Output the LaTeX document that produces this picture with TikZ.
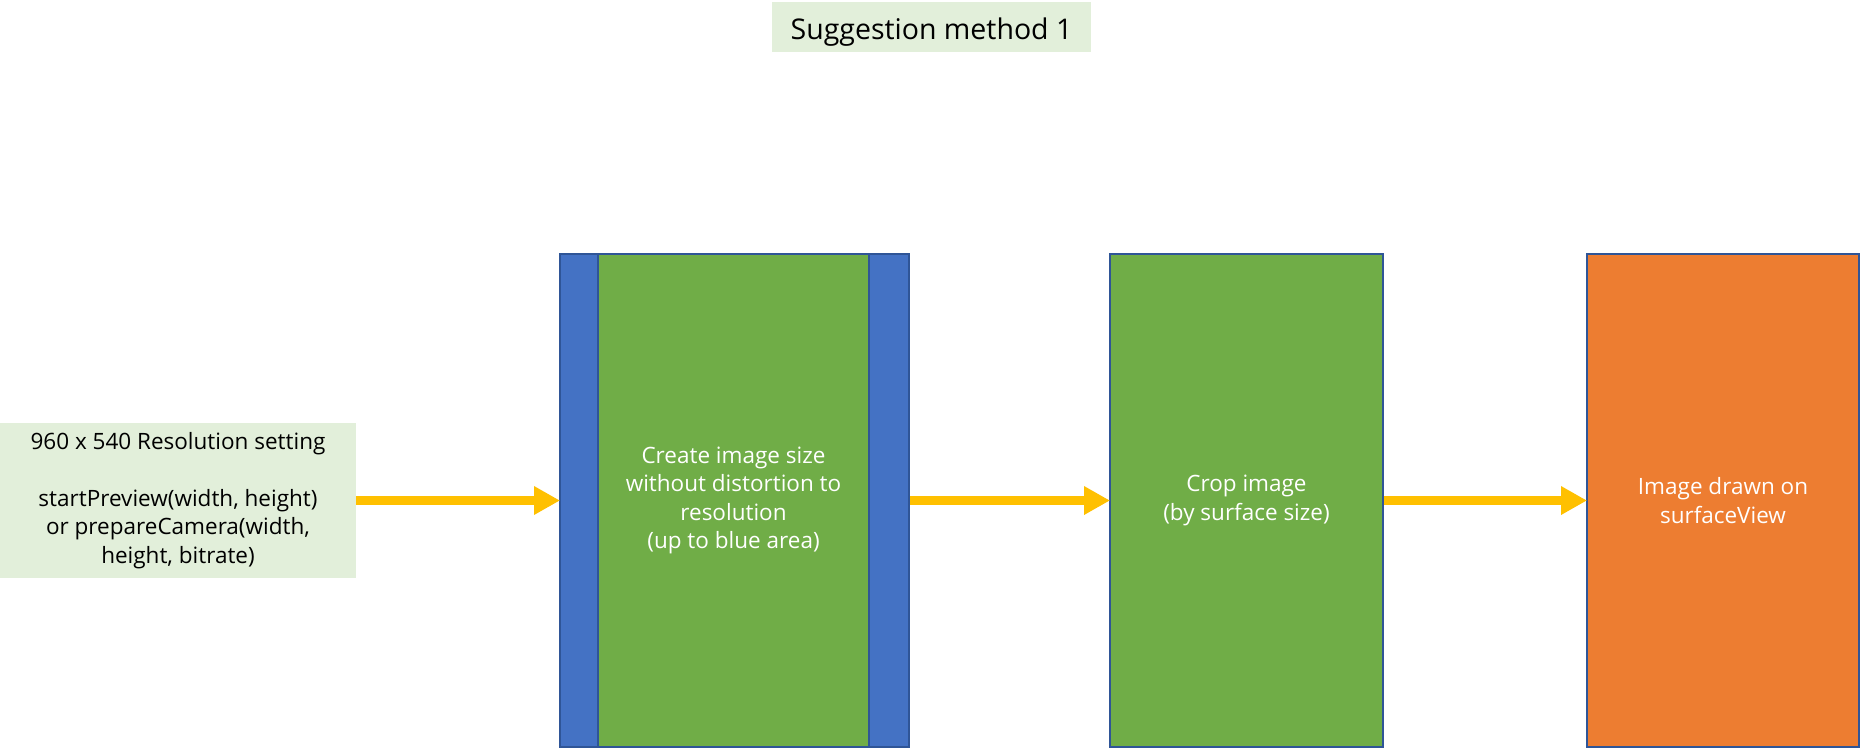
\documentclass[tikz,border=0pt]{standalone}
\usepackage{fontspec}
\setmainfont{Open Sans}
\usetikzlibrary{arrows.meta,positioning}
\definecolor{paleGreen}{HTML}{E2EFDA}
\definecolor{leafGreen}{HTML}{70AD47}
\definecolor{skyBlue}{HTML}{4472C4}
\definecolor{edgeBlue}{HTML}{2F5597}
\definecolor{sunOrange}{HTML}{ED7D31}
\definecolor{goldArrow}{HTML}{FFC000}
\tikzset{
  note/.style={fill=paleGreen, inner sep=0pt, align=center, font=\fontsize{22.5}{28.5}\selectfont, execute at begin node=\rule{0pt}{28pt}},
  stage/.style={draw=edgeBlue, line width=2pt, inner sep=0pt, minimum height=493pt, align=center, text=white, font=\fontsize{22.5}{28.5}\selectfont, execute at begin node=\rule{0pt}{28pt}},
  flow/.style={goldArrow, line width=9pt, -{Triangle[length=26pt,width=27pt]}, shorten >=-1pt}
}
\begin{document}
\begin{tikzpicture}[x=1pt,y=1pt]
\useasboundingbox (0,0) rectangle (1860,-748);

\node [note, minimum width=319pt, minimum height=50pt, font=\fontsize{28.5}{32}\selectfont, execute at begin node=\rule{0pt}{32pt}] (title) at (931.5,-27) {Suggestion method 1};
\node [note, minimum width=356pt, minimum height=155pt] (input) at (178,-500.5) {960 x 540 Resolution setting\\[28.5pt]startPreview(width, height)\\or prepareCamera(width,\\height, bitrate)};

\node [stage, fill=skyBlue, minimum width=349pt] (scale) at (734.5,-500.5) {};
\node [stage, fill=leafGreen, minimum width=271pt] (create) at (733.5,-500.5) {Create image size\\without distortion to\\resolution\\(up to blue area)};
\node [stage, fill=leafGreen, minimum width=273pt] (crop) at (1246.5,-500.5) {Crop image\\(by surface size)};
\node [stage, fill=sunOrange, minimum width=272pt] (view) at (1723,-500.5) {Image drawn on\\surfaceView};

\draw [flow] (input.east) -- (scale.west);
\draw [flow] (scale.east) -- (crop.west);
\draw [flow] (crop.east) -- (view.west);
\end{tikzpicture}
\end{document}
